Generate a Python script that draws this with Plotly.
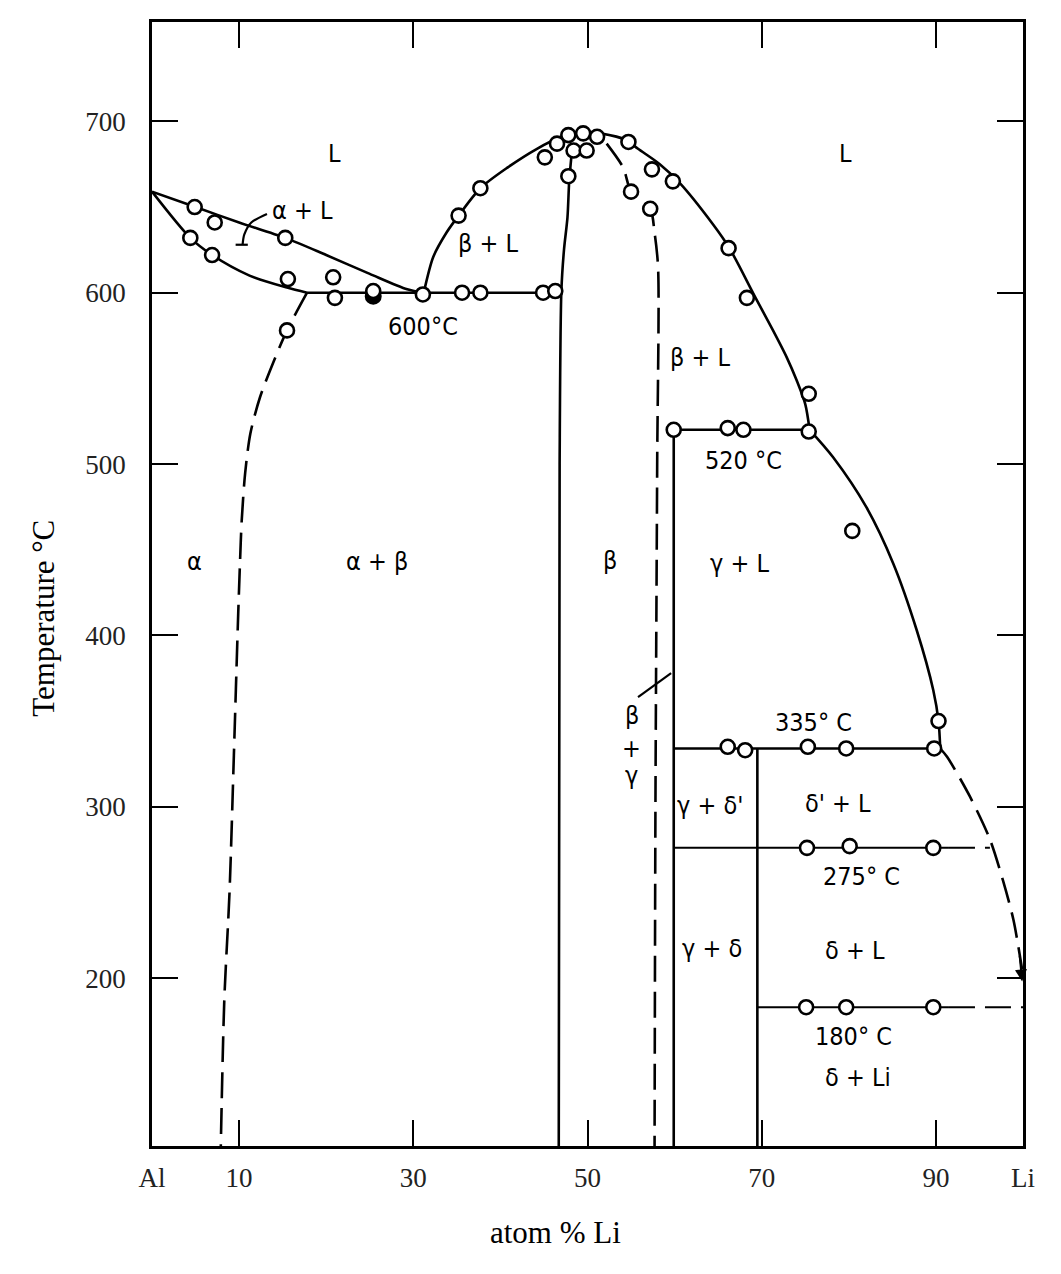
import plotly.graph_objects as go

# ---------------- data (atom % Li, temperature °C) ----------------
# alpha + L liquidus (Al side)
al_liq_x = [0, 5.0, 10.0, 15.3, 20.0, 25.0, 29.3, 31.2]
al_liq_t = [659, 650, 641, 632, 622, 611, 602, 600]
# alpha solidus
al_sol_x = [0, 4.4, 6.9, 11.2, 15.5, 17.8]
al_sol_t = [659, 632, 622, 610, 603, 600]
# alpha solvus (dashed)
al_solv_x = [17.8, 15.5, 13.9, 12.4, 11.3, 10.7, 10.3, 10.1, 9.9, 9.4, 8.9, 8.3, 7.9]
al_solv_t = [600, 578, 559, 539, 518, 495, 467, 442, 413, 330, 250, 187, 102]
# eutectic 600 °C
eut_x = [17.8, 47.0]
eut_t = [600, 600]
# beta liquidus (dome)
beta_liq_x = [31.2, 32.3, 33.8, 35.2, 37.7, 40.8, 44.2, 47.0, 49.1, 51.5, 54.5, 55.8,
              58.3, 60.6, 64.4, 66.3, 69.3, 71.3, 72.9, 74.0, 75.0, 75.5]
beta_liq_t = [600, 621, 635, 645, 661, 673, 684, 691, 694, 693, 689, 684,
              675, 664, 640, 626, 597, 578, 562, 549, 535, 520]
# beta left boundary (solid)
beta_l_x = [48.2, 47.9, 47.7, 47.3, 47.0, 46.8, 46.7]
beta_l_t = [682, 665, 644, 625, 601, 500, 102]
# beta right boundary (dashed)
beta_r_x = [52.2, 54.1, 55.0, 57.2, 57.7, 58.1, 58.0, 57.8, 57.7]
beta_r_t = [687, 673, 659, 649, 635, 615, 500, 300, 102]
# gamma liquidus
gam_liq_x = [75.5, 78.2, 82.0, 85.1, 87.8, 89.7, 90.3, 90.5]
gam_liq_t = [520, 504, 475, 442, 403, 368, 350, 334]
# Li-side liquidus (dashed)
li_liq_x = [90.5, 91.3, 93.9, 96.2, 97.7, 98.9, 99.9]
li_liq_t = [334, 329, 306, 281, 257, 234, 205]
# invariant lines
iso520_x = [59.9, 75.5]
iso520_t = [520, 520]
iso335_x = [59.9, 90.5]
iso335_t = [334, 334]
iso275_x = [59.9, 91.5]
iso275_t = [276, 276]
iso275d_x = [91.5, 96.2]
iso275d_t = [276, 276]
iso180_x = [69.5, 91.5]
iso180_t = [183, 183]
iso180d_x = [91.5, 100]
iso180d_t = [183, 183]
# vertical phase boundaries
gam_x = [59.9, 59.9]
gam_t = [520, 102]
dlt_x = [69.5, 69.5]
dlt_t = [334, 102]

# experimental points (open circles)
pts_x = [4.9, 7.2, 4.4, 6.9, 15.3, 15.6, 20.8, 21.0, 25.4, 31.1, 35.6, 37.7, 44.9, 46.3, 15.5,
         35.2, 37.7,
         45.1, 46.5, 47.8, 49.5, 51.1, 48.4, 49.9, 47.8, 54.7, 57.4, 59.8, 55.0, 57.2, 66.2, 68.3,
         59.9, 66.1, 67.9, 75.4, 75.4, 80.4, 90.3,
         66.1, 68.1, 75.3, 79.7, 89.8,
         75.2, 80.1, 89.7,
         75.1, 79.7, 89.7]
pts_t = [650, 641, 632, 622, 632, 608, 609, 597, 601, 599, 600, 600, 600, 601, 578,
         645, 661,
         679, 687, 692, 693, 691, 683, 683, 668, 688, 672, 665, 659, 649, 626, 597,
         520, 521, 520, 519, 541, 461, 350,
         335, 333, 335, 334, 334,
         276, 277, 276,
         183, 183, 183]
# filled point
fill_x = [25.4]
fill_t = [598]

# region labels
lab_text = ["L", "L", "α + L", "β + L", "600°C", "β + L", "520 °C", "γ + L", "β", "α", "α + β",
            "335° C", "γ + δ'", "δ' + L", "275° C", "γ + δ", "δ + L", "180° C", "δ + Li"]
lab_x = [21.0, 79.6, 17.3, 38.6, 31.1, 62.9, 67.9, 67.5, 52.6, 4.9, 25.8,
         75.9, 64.1, 78.8, 81.5, 64.3, 80.7, 80.5, 81.1]
lab_t = [681, 681, 648, 629, 580, 562, 502, 442, 444, 443, 443,
         349, 301, 302, 259, 217, 216, 166, 142]
bg_text = ["β", "+", "γ"]
bg_x = [55.1, 55.0, 55.1]
bg_t = [353, 334, 318]

# leader lines
lead1_x = [13.2, 11.4, 10.6, 10.4]
lead1_t = [646, 641, 634, 628]
lead1b_x = [9.6, 11.0]
lead1b_t = [628, 628]
lead2_x = [55.8, 59.6]
lead2_t = [364, 378]
# arrow tip of the Li-side liquidus
arrow_tip = (99.9, 198)
arrow_tail = (99.6, 214)

# axis ticks
xtick_vals = [0, 10, 30, 50, 70, 90, 100]
xtick_text = ["Al", "10", "30", "50", "70", "90", "Li"]
ytick_vals = [200, 300, 400, 500, 600, 700]

fig = go.Figure()

def line(x, y, width=2.6, dash=None, spline=False):
    fig.add_trace(go.Scatter(
        x=x, y=y, mode="lines", hoverinfo="skip", showlegend=False,
        line=dict(color="black", width=width, dash=dash,
                  shape="spline" if spline else "linear", smoothing=0.8)))

DASH = "26px,10px"
line(al_liq_x, al_liq_t, spline=True)
line(al_sol_x, al_sol_t, spline=True)
line(al_solv_x, al_solv_t, dash=DASH, spline=True)
line(eut_x, eut_t)
line(beta_liq_x, beta_liq_t, spline=True)
line(beta_l_x, beta_l_t, spline=True)
line(beta_r_x, beta_r_t, dash=DASH, spline=True)
line(gam_liq_x, gam_liq_t, spline=True)
line(li_liq_x, li_liq_t, dash=DASH, spline=True)
line(iso520_x, iso520_t)
line(iso335_x, iso335_t)
line(iso275_x, iso275_t, width=2.0)
line(iso275d_x, iso275d_t, width=2.0, dash=DASH)
line(iso180_x, iso180_t, width=2.0)
line(iso180d_x, iso180d_t, width=2.0, dash=DASH)
line(gam_x, gam_t)
line(dlt_x, dlt_t)
line(lead1_x, lead1_t, width=2.2, spline=True)
line(lead1b_x, lead1b_t, width=2.2)
line(lead2_x, lead2_t, width=2.2)

fig.add_trace(go.Scatter(
    x=fill_x, y=fill_t, mode="markers", hoverinfo="skip", showlegend=False,
    marker=dict(size=15, color="black", line=dict(color="black", width=2))))
fig.add_trace(go.Scatter(
    x=pts_x, y=pts_t, mode="markers", hoverinfo="skip", showlegend=False,
    marker=dict(size=14, color="white", line=dict(color="black", width=2.6))))

fig.add_annotation(x=arrow_tip[0], y=arrow_tip[1], ax=arrow_tail[0], ay=arrow_tail[1],
                   axref="x", ayref="y", text="", showarrow=True, arrowhead=2,
                   arrowsize=1.2, arrowwidth=2, arrowcolor="black")

LABEL_FONT = dict(family="DejaVu Sans Condensed, Liberation Sans Narrow, DejaVu Sans, sans-serif",
                  size=25, color="black")
for t, x, y in zip(lab_text, lab_x, lab_t):
    fig.add_annotation(x=x, y=y, text=t, showarrow=False, font=LABEL_FONT)
for t, x, y in zip(bg_text, bg_x, bg_t):
    fig.add_annotation(x=x, y=y, text=t, showarrow=False, font=LABEL_FONT)

SERIF = "Liberation Serif, Times New Roman, serif"
fig.add_annotation(xref="paper", yref="paper", x=0.463, y=-0.0774, text="atom % Li",
                   xanchor="center", yanchor="middle",
                   showarrow=False, font=dict(family=SERIF, size=31, color="black"))
fig.add_annotation(xref="paper", yref="paper", x=-0.124, y=0.47, text="Temperature °C",
                   xanchor="center", yanchor="middle",
                   textangle=-90, showarrow=False, font=dict(family=SERIF, size=31, color="black"))

axis_common = dict(showline=True, linecolor="black", linewidth=2.6, mirror="ticks",
                   ticks="inside", ticklen=26, tickwidth=2.2, tickcolor="black",
                   showgrid=False, zeroline=False,
                   tickfont=dict(family=SERIF, size=27, color="#222"))
fig.update_xaxes(range=[0, 100], tickvals=xtick_vals, ticktext=xtick_text,
                 ticklabelstandoff=6, **axis_common)
fig.update_yaxes(range=[102, 758], tickvals=ytick_vals, ticklabelstandoff=18, **axis_common)

fig.update_layout(width=1053, height=1266, margin=dict(l=144, r=38, t=14, b=128),
                  plot_bgcolor="white", paper_bgcolor="white", showlegend=False)

fig.write_html("out.html")
